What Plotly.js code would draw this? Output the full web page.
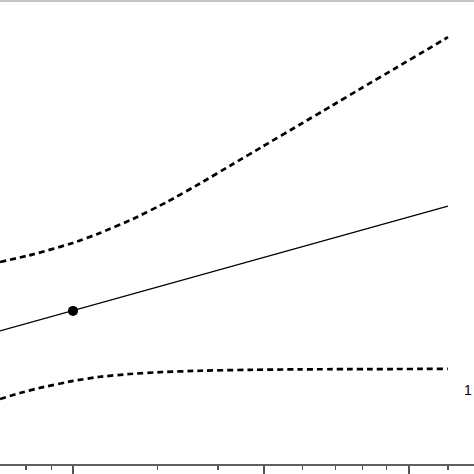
<!DOCTYPE html>
<html>
<head>
<meta charset="utf-8">
<script src="https://cdn.plot.ly/plotly-3.0.1.min.js"></script>
<style>html,body{margin:0;padding:0;background:#fff;}#chart{width:474px;height:474px;}</style>
</head>
<body>
<div id="chart"></div>
<script>
// Fitted line
const fitX = [0, 94.5];
const fitY = [28.7, 55.6];
// Observed point
const pointX = [15.4];
const pointY = [33.0];
// Upper confidence bound
const upperX = [0, 6.96, 15.4, 21.1, 28.06, 35.23, 42.19, 49.16, 55.49, 63.29, 69.62, 76.58, 83.76, 90.72, 94.51];
const upperY = [43.53, 45.17, 47.63, 49.78, 52.80, 56.47, 60.45, 64.66, 68.47, 73.17, 76.98, 81.19, 85.50, 89.70, 91.98];
// Lower confidence bound
const lowerX = [0, 4.2, 8.4, 15.4, 21.1, 27.4, 33.8, 42.2, 52.7, 63.3, 94.5];
const lowerY = [14.0, 15.3, 16.4, 17.9, 18.8, 19.4, 19.8, 20.1, 20.3, 20.4, 20.5];
// Axis ticks
const majorTicks = [15.4, 55.7, 86.3];
const minorTicks = [5.5, 10.8, 33.3, 46.0, 63.9, 70.7, 76.4, 81.6, 94.5];
const sideLabel = "1";

const dashStyle = {color: '#000', width: 2.7, dash: '6px,4px', shape: 'spline', smoothing: 0.4};

const traces = [
  {x: upperX, y: upperY, mode: 'lines', line: dashStyle, hoverinfo: 'skip'},
  {x: lowerX, y: lowerY, mode: 'lines', line: dashStyle, hoverinfo: 'skip'},
  {x: fitX, y: fitY, mode: 'lines', line: {color: '#000', width: 1.3}},
  {x: pointX, y: pointY, mode: 'markers', marker: {color: '#000', size: 10}}
];

const layout = {
  width: 474, height: 474,
  margin: {l: 0, r: 0, t: 0, b: 10},
  paper_bgcolor: '#fff', plot_bgcolor: '#fff',
  showlegend: false,
  xaxis: {
    range: [0, 100], showgrid: false, zeroline: false,
    showline: true, linecolor: '#606060', linewidth: 2,
    tickmode: 'array', tickvals: majorTicks, ticks: 'outside',
    ticklen: 9, tickwidth: 1.2, tickcolor: '#555', showticklabels: false
  },
  xaxis2: {
    range: [0, 100], overlaying: 'x', side: 'bottom', anchor: 'y',
    showgrid: false, zeroline: false, showline: false,
    tickmode: 'array', tickvals: minorTicks, ticks: 'outside',
    ticklen: 5, tickwidth: 1.2, tickcolor: '#555', showticklabels: false
  },
  yaxis: {
    range: [0, 100], showgrid: false, zeroline: false, showline: false,
    showticklabels: false, ticks: ''
  },
  shapes: [
    {type: 'line', xref: 'paper', yref: 'paper', x0: 0, x1: 1, y0: 1, y1: 1,
     line: {color: '#c4c4c4', width: 4}}
  ],
  annotations: [
    {text: sideLabel, xref: 'paper', yref: 'y', x: 1, y: 16.0, xanchor: 'right', yanchor: 'middle',
     showarrow: false, font: {family: 'Liberation Sans, Arial, sans-serif', size: 14, color: '#000'}}
  ]
};

// Dummy trace to activate xaxis2
traces.push({x: [0], y: [0], xaxis: 'x2', mode: 'markers', marker: {opacity: 0}, hoverinfo: 'skip'});

Plotly.newPlot('chart', traces, layout, {staticPlot: true, displayModeBar: false});
</script>
</body>
</html>
